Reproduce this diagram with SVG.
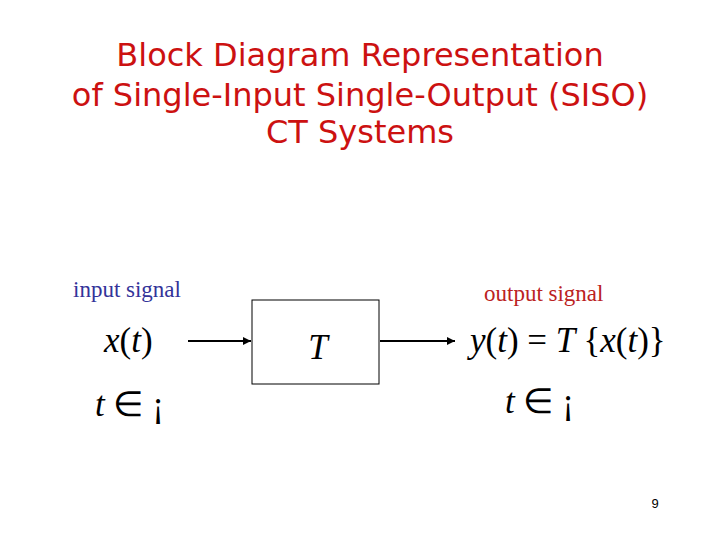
<svg xmlns="http://www.w3.org/2000/svg" width="720" height="540" viewBox="0 0 720 540">
<defs>
<style>
.title{font-family:"DejaVu Sans",sans-serif;font-size:32px;fill:#cc1111;text-anchor:middle}
.lbl{font-family:"Liberation Serif",serif;font-size:23px}
.math{font-family:"Liberation Serif",serif;font-size:35px;font-style:italic;fill:#000}
.sym{font-family:"Liberation Serif",serif;font-size:35px;fill:#000}
.conn{stroke:#000;stroke-width:2;fill:none;marker-end:url(#ah)}
</style>
<marker id="ah" viewBox="0 0 10 10" refX="10" refY="5" markerWidth="4" markerHeight="4" orient="auto"><path d="M0,0L10,5L0,10z" fill="#000"/></marker>
</defs>
<rect width="720" height="540" fill="#fff"/>
<g id="title">
<text class="title" x="360" y="66">Block Diagram Representation</text>
<text class="title" x="360" y="106">of Single-Input Single-Output (SISO)</text>
<text class="title" x="360" y="143">CT Systems</text>
</g>
<g id="input">
<text class="lbl" x="73" y="297" fill="#333399">input signal</text>
<text class="math" x="104" y="352">x<tspan class="sym" font-style="normal">(</tspan>t<tspan class="sym" font-style="normal">)</tspan></text>
<text class="math" x="95" y="416">t <tspan class="sym" font-style="normal" font-size="26">∈</tspan><tspan class="sym" font-style="normal"> ¡</tspan></text>
</g>
<g id="system">
<rect x="252" y="300" width="127" height="84" fill="#fff" stroke="#000" stroke-width="1"/>
<text class="math" x="318" y="359" text-anchor="middle" font-size="46">T</text>
</g>
<g id="output">
<text class="lbl" x="484" y="301" fill="#bb2222">output signal</text>
<text class="math" x="470" y="352">y<tspan class="sym" font-style="normal">(</tspan>t<tspan class="sym" font-style="normal">) = </tspan>T <tspan class="sym" font-style="normal" font-size="40">{</tspan>x<tspan class="sym" font-style="normal">(</tspan>t<tspan class="sym" font-style="normal">)</tspan><tspan class="sym" font-style="normal" font-size="40">}</tspan></text>
<text class="math" x="505" y="413">t <tspan class="sym" font-style="normal" font-size="26">∈</tspan><tspan class="sym" font-style="normal"> ¡</tspan></text>
</g>
<g id="connectors">
<line class="conn" x1="188" y1="341" x2="251" y2="341"/>
<line class="conn" x1="380" y1="341" x2="455" y2="341"/>
</g>
<text x="655" y="508" font-family="Liberation Sans,sans-serif" font-size="13" text-anchor="middle">9</text>
</svg>
